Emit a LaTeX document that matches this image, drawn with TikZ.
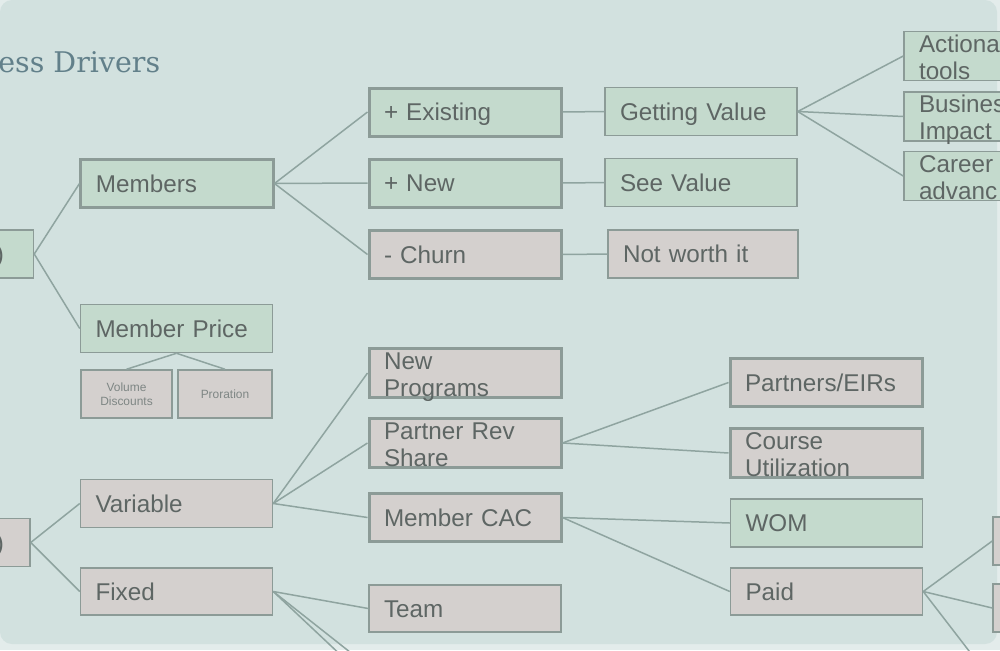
\documentclass[tikz,border=0pt]{standalone}
\usepackage{fontspec}
\setmainfont{Liberation Sans}
\newfontfamily\titlefont{DejaVu Serif}
\usepackage{tikz}
\usetikzlibrary{positioning}
\definecolor{slidebg}{HTML}{D2E1DF}
\definecolor{outerbg}{HTML}{E3ECEB}
\definecolor{leafgreen}{HTML}{C4DACD}
\definecolor{leafgrey}{HTML}{D4D0CE}
\definecolor{edgegrey}{HTML}{8C9B97}
\definecolor{wiregrey}{HTML}{8FA4A0}
\definecolor{inkgrey}{HTML}{5E6664}
\definecolor{faintink}{HTML}{7E8684}
\definecolor{titleblue}{HTML}{62808A}

\begin{document}
\begin{tikzpicture}[x=0.2mm,y=-0.2mm,
  box/.style={draw=edgegrey,line width=0.3mm,text=inkgrey,font=\fontsize{13.8}{15.5}\selectfont,
    align=left,text width=32.4mm,inner xsep=3mm,inner ysep=0pt,minimum height=9.6mm,
    text height=3.5mm,text depth=0pt},
  heavy/.style={box,line width=0.6mm},
  gain/.style={fill=leafgreen},
  drag/.style={fill=leafgrey},
  twoline/.style={text height=4.1mm,text depth=5.7mm,minimum height=0pt},
  tiny/.style={draw=edgegrey,line width=0.3mm,fill=leafgrey,text=faintink,align=center,
    font=\fontsize{6.8}{8}\selectfont,inner sep=0pt,minimum height=9.6mm},
  title/.style={anchor=base west,text=titleblue,font=\titlefont\fontsize{16.2}{19}\selectfont,inner sep=0pt},
  wire/.style={draw=wiregrey,line width=0.3mm}]

\useasboundingbox (0,0) rectangle (1000,650);
\clip (0,0) rectangle (1000,650);
\fill[outerbg] (0,0) rectangle (1000,650);
\fill[slidebg,rounded corners=2.4mm] (0,0) rectangle (997,644);

\node[title] (ttl) at (-2,72) {ess Drivers};

% revenue side
\node[box,gain,text width=15mm,inner xsep=5.9mm,align=right] (rev) at (-33.5,254) {)};
\node[heavy,gain]  (memb)   at (177,183.5)   {Members};
\node[box,gain]    (mprice) at (176.5,328.5) {Member Price};
\node[tiny,minimum width=18.2mm] (vold) at (126.5,394) {Volume\\Discounts};
\node[tiny,minimum width=18.8mm] (pror) at (225,394)   {Proration};
\node[heavy,gain]  (exist)  at (465,112)     {+ Existing};
\node[heavy,gain]  (newm)   at (465,183)     {+ New};
\node[heavy,drag]  (churn)  at (465,254.5)   {- Churn};
\node[box,gain]    (getv)   at (701,111.5)   {Getting Value};
\node[box,gain]    (seev)   at (701,182.5)   {See Value};
\node[box,drag,text width=32mm] (notw) at (703,254) {Not worth it};
\node[box,gain,twoline] (act) at (1000,56)    {Actiona\\tools};
\node[box,gain,twoline] (bus) at (1000,116.5) {Busines\\Impact};
\node[box,gain,twoline] (car) at (1000,176)   {Career\\advanc};

% cost side
\node[box,drag,text width=15mm,inner xsep=5.2mm,align=right] (cost) at (-33.5,542.5) {)};
\node[box,drag]    (var)    at (176.5,503.5) {Variable};
\node[box,drag,minimum height=9.4mm] (fixd) at (176.5,591.5) {Fixed};
\node[heavy,drag,twoline] (newp) at (465,373) {New\\Programs};
\node[heavy,drag,twoline] (prs)  at (465,443) {Partner Rev\\Share};
\node[heavy,drag]  (cac)    at (465,517.5)   {Member CAC};
\node[box,drag,minimum height=9.4mm] (team) at (465,608.5) {Team};
\node[heavy,drag]  (peir)   at (826,382.5)   {Partners/EIRs};
\node[heavy,drag,twoline] (cuse) at (826,453) {Course\\Utilization};
\node[box,gain]    (wom)    at (826.5,523)   {WOM};
\node[box,drag,minimum height=9.4mm] (paid) at (826.5,591.5) {Paid};
\node[box,drag]    (paida)  at (1089,541)    {};
\node[box,drag]    (paidb)  at (1089,608)    {};
\coordinate (fixa) at (346,660);
\coordinate (fixb) at (360,660);
\coordinate (paidc) at (976,660);

\draw[wire] (rev.east) -- (memb.west);
\draw[wire] (rev.east) -- (mprice.west);
\draw[wire] (mprice.south) -- (vold.north);
\draw[wire] (mprice.south) -- (pror.north);
\draw[wire] (memb.east) -- (exist.west);
\draw[wire] (memb.east) -- (newm.west);
\draw[wire] (memb.east) -- (churn.west);
\draw[wire] (exist) -- (getv);
\draw[wire] (newm) -- (seev);
\draw[wire] (churn) -- (notw);
\draw[wire] (getv.east) -- (act.west);
\draw[wire] (getv.east) -- (bus.west);
\draw[wire] (getv.east) -- (car.west);
\draw[wire] (cost.east) -- (var.west);
\draw[wire] (cost.east) -- (fixd.west);
\draw[wire] (var.east) -- (newp.west);
\draw[wire] (var.east) -- (prs.west);
\draw[wire] (var.east) -- (cac.west);
\draw[wire] (fixd.east) -- (team.west);
\draw[wire] (fixd.east) -- (fixa);
\draw[wire] (fixd.east) -- (fixb);
\draw[wire] (prs.east) -- (peir.west);
\draw[wire] (prs.east) -- (cuse.west);
\draw[wire] (cac.east) -- (wom.west);
\draw[wire] (cac.east) -- (paid.west);
\draw[wire] (paid.east) -- (paida.west);
\draw[wire] (paid.east) -- (paidb.west);
\draw[wire] (paid.east) -- (paidc);
\end{tikzpicture}
\end{document}
